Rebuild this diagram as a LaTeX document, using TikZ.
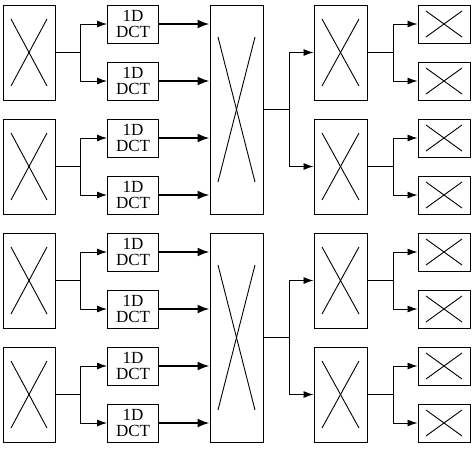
\documentclass[tikz,border=0pt]{standalone}
\usepackage{fontspec}
\setmainfont{Liberation Serif}
\usetikzlibrary{arrows.meta}
\begin{document}
\begin{tikzpicture}[x=1pt,y=-1pt,
  blk/.style={draw,line width=1pt,inner sep=0pt},
  cross/.style 2 args={path picture={
     \draw[line width=0.9pt] ([shift={(#1pt,-#2pt)}]path picture bounding box.north west)
        -- ([shift={(-#1pt,#2pt)}]path picture bounding box.south east);
     \draw[line width=0.9pt] ([shift={(-#1pt,-#2pt)}]path picture bounding box.north east)
        -- ([shift={(#1pt,#2pt)}]path picture bounding box.south west);}},
  tall/.style={blk,minimum width=52pt,minimum height=95pt,cross={8}{14}},
  big/.style={blk,minimum width=53pt,minimum height=209pt,cross={8}{32}},
  small/.style={blk,minimum width=52pt,minimum height=38pt,cross={8}{6}},
  dct/.style={blk,minimum width=51pt,minimum height=38pt,align=center,
     font=\fontsize{17}{16.5}\selectfont},
  thin/.style={-{Latex[length=10pt,width=7pt]},line width=0.9pt},
  fat/.style={-{Latex[length=12pt,width=9pt]},line width=2pt}]

  \useasboundingbox (0,0) rectangle (474,448);

  \foreach \h in {0,1} {
    \pgfmathsetmacro\o{228*\h}
    % input blocks
    \node[tall] (L\h1) at (29,52.5+\o) {};
    \node[tall] (L\h2) at (29,166.5+\o) {};
    % 1D DCT
    \foreach \k in {1,...,4}
      \node[dct] (D\h\k) at (133,{24+57*(\k-1)+\o}) {1D\\DCT};
    \node[big] (B\h) at (236.5,109.5+\o) {};
    \node[tall,minimum width=53pt] (M\h1) at (340.5,52.5+\o) {};
    \node[tall,minimum width=53pt] (M\h2) at (340.5,166.5+\o) {};
    \foreach \k in {1,...,4}
      \node[small] (R\h\k) at (444,{24+57*(\k-1)+\o}) {};

    \draw[thin] (L\h1.east) -- ++(25,0) |- (D\h1.west);
    \draw[thin] (L\h1.east) -- ++(25,0) |- (D\h2.west);
    \draw[thin] (L\h2.east) -- ++(25,0) |- (D\h3.west);
    \draw[thin] (L\h2.east) -- ++(25,0) |- (D\h4.west);
    \foreach \k in {1,...,4}
      \draw[fat] (D\h\k.east) -- (D\h\k.east -| B\h.west);
    \draw[thin] (B\h.east) -- ++(26,0) |- (M\h1.west);
    \draw[thin] (B\h.east) -- ++(26,0) |- (M\h2.west);
    \draw[thin] (M\h1.east) -- ++(26,0) |- (R\h1.west);
    \draw[thin] (M\h1.east) -- ++(26,0) |- (R\h2.west);
    \draw[thin] (M\h2.east) -- ++(26,0) |- (R\h3.west);
    \draw[thin] (M\h2.east) -- ++(26,0) |- (R\h4.west);
  }
\end{tikzpicture}
\end{document}
